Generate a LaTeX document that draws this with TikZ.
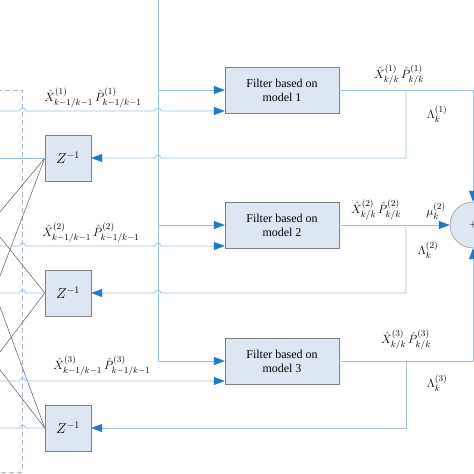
\documentclass[tikz,border=0pt]{standalone}
\usepackage{fontspec}
\setmainfont{Liberation Serif}
\usetikzlibrary{arrows.meta,calc}
\definecolor{wirecol}{HTML}{9DC3E2}
\definecolor{tipcol}{HTML}{1F78C8}
\definecolor{boxfill}{HTML}{DDE7F3}
\definecolor{boxline}{HTML}{7F7F7F}
\definecolor{dashcol}{HTML}{A5B8CB}
\def\hopr#1{-- ($#1+(-3,0)$) arc[start angle=180,end angle=0,radius=3]}
\def\hopl#1{-- ($#1+(3,0)$) arc[start angle=0,end angle=180,radius=3]}
\tikzset{
  filterbox/.style={draw=boxline,fill=boxfill,minimum width=114pt,minimum height=46pt,
    align=center,font=\fontsize{12}{14}\selectfont},
  delaybox/.style={draw=boxline,fill=boxfill,minimum size=46pt,font=\fontsize{14}{15}\selectfont},
  sumnode/.style={circle,draw=boxline,fill=boxfill,minimum size=46pt,inner sep=0pt},
  wire/.style={draw=wirecol,line width=0.8pt},
  arr/.style={wire,-{Triangle[length=11pt,width=8pt,color=tipcol]}},
  mix/.style={draw=black!65,line width=0.5pt},
  lab/.style={font=\fontsize{13}{15}\selectfont,inner sep=1pt},
}
\begin{document}
\begin{tikzpicture}[x=1pt,y=1pt]
\clip (0,0) rectangle (474,-474);
% blocks
\node[filterbox] (f1) at (282,-90) {Filter based on\\model 1};
\node[filterbox] (f2) at (282,-225) {Filter based on\\model 2};
\node[filterbox] (f3) at (282,-361) {Filter based on\\model 3};
\node[delaybox] (z1) at (68,-158) {$Z^{-1}$};
\node[delaybox] (z2) at (68,-293) {$Z^{-1}$};
\node[delaybox] (z3) at (68,-428) {$Z^{-1}$};
\node[sumnode] (sum) at (473,-225) {$+$};
% free ends
\coordinate (bus) at (158,0);
\coordinate (dsh) at (22.7,-90);
\coordinate (l1) at (0,-111);
\coordinate (l2) at (0,-246);
\coordinate (l3) at (0,-381);
\coordinate (w1) at (0,-158);
\coordinate (w2) at (0,-293);
\coordinate (w3) at (0,-428);
\coordinate (j1) at (406,-90);
\coordinate (j2) at (406,-225);
\coordinate (j3) at (406,-361);
% mixing
\draw[dashed,dash pattern=on 5pt off 3pt,draw=dashcol,line width=0.6pt]
  (-3,-90) -- (dsh) -- (22.7,-472) -- (-3,-472);
\draw[mix] (z1.west) -- (0,-212);
\draw[mix] (z1.west) -- (0,-276);
\draw[mix] (z2.west) -- (0,-237);
\draw[mix] (z2.west) -- (0,-352);
\draw[mix] (z3.west) -- (0,-307);
\draw[mix] (z3.west) -- (0,-370);
\draw[wire] (w1) -- (z1.west);
\draw[wire] (w2) \hopr{(dsh |- w2)} -- (z2.west);
\draw[wire] (w3) \hopr{(dsh |- w3)} -- (z3.west);
% inputs
\draw[arr] (bus) |- (f3.west);
\draw[arr] (bus |- f1.west) -- (f1.west);
\draw[arr] (bus |- f2.west) -- (f2.west);
\draw[arr] (l1) \hopr{(dsh |- l1)} \hopr{(bus |- l1)} -- (f1.west |- l1);
\draw[arr] (l2) \hopr{(dsh |- l2)} \hopr{(bus |- l2)} -- (f2.west |- l2);
\draw[arr] (l3) \hopr{(dsh |- l3)} -- (f3.west |- l3);
% outputs
\draw[arr] (f1.east) -- (sum |- f1.east) -- (sum.north);
\draw[arr] (f2.east) -- (sum.west);
\draw[arr] (f3.east) -- (sum |- f3.east) -- (sum.south);
% feedback
\draw[arr] (j1) -- (j1 |- z1) \hopl{(bus |- z1)} -- (z1.east);
\draw[arr] (j2) -- (j2 |- z2) \hopl{(bus |- z2)} -- (z2.east);
\draw[arr] (j3) -- (j3 |- z3) -- (z3.east);
% labels
\node[lab] (xp1) at (93,-98) {$\hat{X}^{(1)}_{k-1/k-1}\,\hat{P}^{(1)}_{k-1/k-1}$};
\node[lab] (xp2) at (91,-233) {$\hat{X}^{(2)}_{k-1/k-1}\,\hat{P}^{(2)}_{k-1/k-1}$};
\node[lab] (xp3) at (102,-366) {$\hat{X}^{(3)}_{k-1/k-1}\,\hat{P}^{(3)}_{k-1/k-1}$};
\node[lab] (xo1) at (399,-75) {$\hat{X}^{(1)}_{k/k}\,\hat{P}^{(1)}_{k/k}$};
\node[lab] (xo2) at (376,-210) {$\hat{X}^{(2)}_{k/k}\,\hat{P}^{(2)}_{k/k}$};
\node[lab] (xo3) at (406,-340) {$\hat{X}^{(3)}_{k/k}\,\hat{P}^{(3)}_{k/k}$};
\node[lab] (lam1) at (437,-114) {$\Lambda^{(1)}_k$};
\node[lab] (lam2) at (428,-250) {$\Lambda^{(2)}_k$};
\node[lab] (lam3) at (437,-383) {$\Lambda^{(3)}_k$};
\node[lab] (mu2) at (436,-211) {$\mu^{(2)}_k$};
\end{tikzpicture}
\end{document}
